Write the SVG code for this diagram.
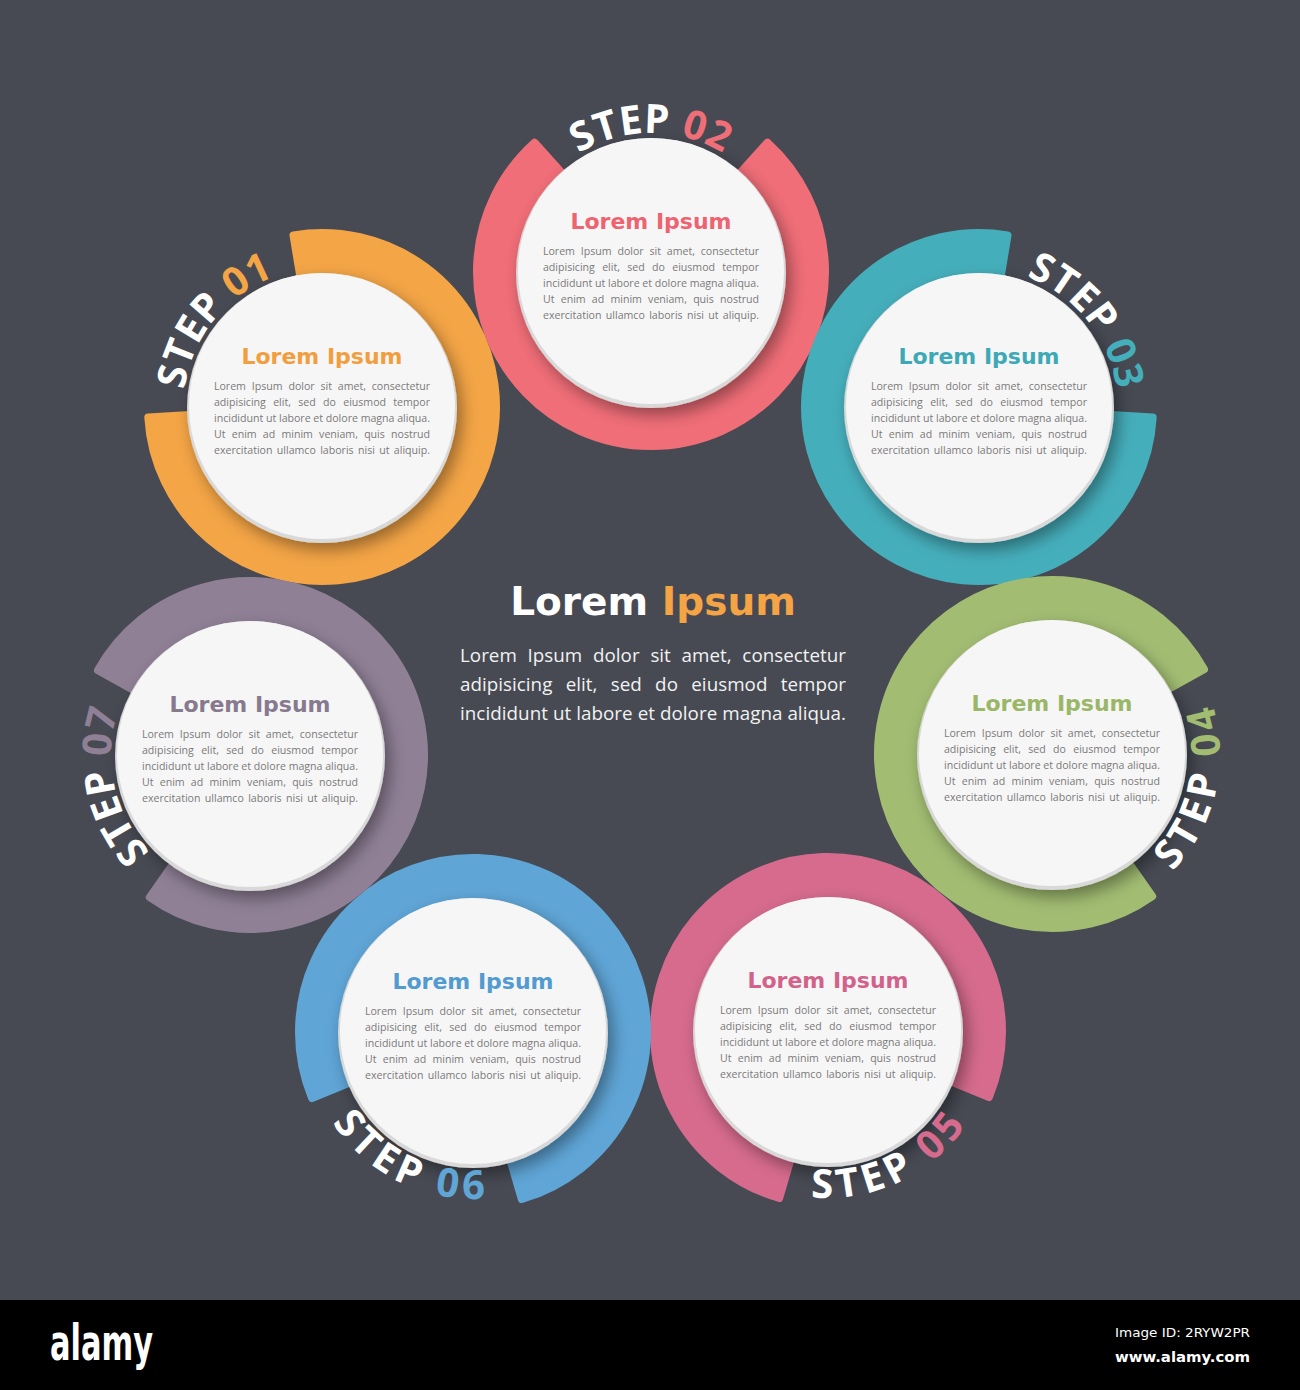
<svg xmlns="http://www.w3.org/2000/svg" xmlns:xlink="http://www.w3.org/1999/xlink" width="1300" height="1390" viewBox="0 0 1300 1390">
<defs>
  <filter id="sh" x="-25%" y="-25%" width="150%" height="150%">
    <feDropShadow dx="5" dy="7" stdDeviation="8" flood-color="#000" flood-opacity="0.38"/>
  </filter>
  <path id="p1" d="M235.33,515.67 A139,139 0 0 1 408.67,298.33"/>
  <path id="p2" d="M512,272 A139,139 0 0 1 790,272"/>
  <path id="p3" d="M892.33,298.33 A139,139 0 0 1 1065.67,515.67"/>
  <path id="p7" d="M280.93,890.52 A139,139 0 0 1 219.07,619.48"/>
  <path id="p4" d="M1014.62,917.79 A168,168 0 0 0 1089.38,590.21"/>
  <path id="p5" d="M676.64,1103.89 A168,168 0 0 0 979.36,958.11"/>
  <path id="p6" d="M321.64,959.11 A168,168 0 0 0 624.36,1104.89"/>
</defs>
<style>
  .ring{stroke-width:8;stroke-linejoin:round}
  .rim{fill:#d9d9d9}
  .disc{fill:#f6f6f6}
  .ttl{font-family:"DejaVu Sans",Verdana,sans-serif;font-weight:bold;font-size:22px;text-anchor:middle}
  .body{font-family:"Open Sans",sans-serif;font-size:10.6px;fill:#7a7a7a}
  .step{font-family:"Open Sans",sans-serif;font-weight:bold;font-size:40px;fill:#ffffff;text-anchor:middle}
  .top{letter-spacing:0.5px}
  .bot{letter-spacing:5px}
  .cbody{font-family:"Open Sans",sans-serif;font-size:18.8px;fill:#f2f2f2}
</style>
<rect x="0" y="0" width="1300" height="1300" fill="#474a53"/>

<g id="step-01">
  <path class="ring" fill="#f4a546" stroke="#f4a546" d="M293.5,235.35 A174,174 0 1 1 148.31,417.41 L198.22,414.42 A124,124 0 1 0 301.69,284.67 Z"/>
  <circle class="rim" cx="322" cy="408" r="135" filter="url(#sh)"/>
  <circle class="disc" cx="322" cy="406" r="133"/>
  <text class="ttl" x="322" y="364" fill="#f29e3e">Lorem Ipsum</text>
  <text class="body" x="214" y="390" textLength="216" lengthAdjust="spacing" word-spacing="3.16">Lorem Ipsum dolor sit amet, consectetur</text>
  <text class="body" x="214" y="406" textLength="216" lengthAdjust="spacing" word-spacing="4.6">adipisicing elit, sed do eiusmod tempor</text>
  <text class="body" x="214" y="422" textLength="216" lengthAdjust="spacing">incididunt ut labore et dolore magna aliqua.</text>
  <text class="body" x="214" y="438" textLength="216" lengthAdjust="spacing" word-spacing="3.5">Ut enim ad minim veniam, quis nostrud</text>
  <text class="body" x="214" y="454" textLength="216" lengthAdjust="spacing" word-spacing="1.6">exercitation ullamco laboris nisi ut aliquip.</text>
  <text class="step top"><textPath xlink:href="#p1" href="#p1" startOffset="50%">STEP <tspan fill="#f4a546">01</tspan></textPath></text>
</g>

<g id="step-02">
  <path class="ring" fill="#f06e78" stroke="#f06e78" d="M767.43,142.69 A174,174 0 1 1 534.57,142.69 L568.03,179.85 A124,124 0 1 0 733.97,179.85 Z"/>
  <circle class="rim" cx="651" cy="273" r="135" filter="url(#sh)"/>
  <circle class="disc" cx="651" cy="271" r="133"/>
  <text class="ttl" x="651" y="229" fill="#ee6370">Lorem Ipsum</text>
  <text class="body" x="543" y="255" textLength="216" lengthAdjust="spacing" word-spacing="3.16">Lorem Ipsum dolor sit amet, consectetur</text>
  <text class="body" x="543" y="271" textLength="216" lengthAdjust="spacing" word-spacing="4.6">adipisicing elit, sed do eiusmod tempor</text>
  <text class="body" x="543" y="287" textLength="216" lengthAdjust="spacing">incididunt ut labore et dolore magna aliqua.</text>
  <text class="body" x="543" y="303" textLength="216" lengthAdjust="spacing" word-spacing="3.5">Ut enim ad minim veniam, quis nostrud</text>
  <text class="body" x="543" y="319" textLength="216" lengthAdjust="spacing" word-spacing="1.6">exercitation ullamco laboris nisi ut aliquip.</text>
  <text class="step top"><textPath xlink:href="#p2" href="#p2" startOffset="50%">STEP <tspan fill="#f06e78">02</tspan></textPath></text>
</g>

<g id="step-03">
  <path class="ring" fill="#45aebb" stroke="#45aebb" d="M1152.69,417.41 A174,174 0 1 1 1007.51,235.35 L999.32,284.68 A124,124 0 1 0 1102.78,414.42 Z"/>
  <circle class="rim" cx="979" cy="408" r="135" filter="url(#sh)"/>
  <circle class="disc" cx="979" cy="406" r="133"/>
  <text class="ttl" x="979" y="364" fill="#3ea9b6">Lorem Ipsum</text>
  <text class="body" x="871" y="390" textLength="216" lengthAdjust="spacing" word-spacing="3.16">Lorem Ipsum dolor sit amet, consectetur</text>
  <text class="body" x="871" y="406" textLength="216" lengthAdjust="spacing" word-spacing="4.6">adipisicing elit, sed do eiusmod tempor</text>
  <text class="body" x="871" y="422" textLength="216" lengthAdjust="spacing">incididunt ut labore et dolore magna aliqua.</text>
  <text class="body" x="871" y="438" textLength="216" lengthAdjust="spacing" word-spacing="3.5">Ut enim ad minim veniam, quis nostrud</text>
  <text class="body" x="871" y="454" textLength="216" lengthAdjust="spacing" word-spacing="1.6">exercitation ullamco laboris nisi ut aliquip.</text>
  <text class="step top"><textPath xlink:href="#p3" href="#p3" startOffset="50%">STEP <tspan fill="#45aebb">03</tspan></textPath></text>
</g>

<g id="step-04">
  <path class="ring" fill="#a2bd72" stroke="#a2bd72" d="M1152.16,896.28 A174,174 0 1 1 1203.98,669.27 L1160.31,693.62 A124,124 0 1 0 1123.38,855.40 Z"/>
  <circle class="rim" cx="1052" cy="755" r="135" filter="url(#sh)"/>
  <circle class="disc" cx="1052" cy="753" r="133"/>
  <text class="ttl" x="1052" y="711" fill="#9ab768">Lorem Ipsum</text>
  <text class="body" x="944" y="737" textLength="216" lengthAdjust="spacing" word-spacing="3.16">Lorem Ipsum dolor sit amet, consectetur</text>
  <text class="body" x="944" y="753" textLength="216" lengthAdjust="spacing" word-spacing="4.6">adipisicing elit, sed do eiusmod tempor</text>
  <text class="body" x="944" y="769" textLength="216" lengthAdjust="spacing">incididunt ut labore et dolore magna aliqua.</text>
  <text class="body" x="944" y="785" textLength="216" lengthAdjust="spacing" word-spacing="3.5">Ut enim ad minim veniam, quis nostrud</text>
  <text class="body" x="944" y="801" textLength="216" lengthAdjust="spacing" word-spacing="1.6">exercitation ullamco laboris nisi ut aliquip.</text>
  <text class="step bot"><textPath xlink:href="#p4" href="#p4" startOffset="50%">STEP <tspan fill="#a2bd72">04</tspan></textPath></text>
</g>

<g id="step-05">
  <path class="ring" fill="#d66b8d" stroke="#d66b8d" d="M779.20,1198.02 A174,174 0 1 1 989.00,1096.99 L942.74,1078.03 A124,124 0 1 0 793.22,1150.02 Z"/>
  <circle class="rim" cx="828" cy="1032" r="135" filter="url(#sh)"/>
  <circle class="disc" cx="828" cy="1030" r="133"/>
  <text class="ttl" x="828" y="988" fill="#d2628a">Lorem Ipsum</text>
  <text class="body" x="720" y="1014" textLength="216" lengthAdjust="spacing" word-spacing="3.16">Lorem Ipsum dolor sit amet, consectetur</text>
  <text class="body" x="720" y="1030" textLength="216" lengthAdjust="spacing" word-spacing="4.6">adipisicing elit, sed do eiusmod tempor</text>
  <text class="body" x="720" y="1046" textLength="216" lengthAdjust="spacing">incididunt ut labore et dolore magna aliqua.</text>
  <text class="body" x="720" y="1062" textLength="216" lengthAdjust="spacing" word-spacing="3.5">Ut enim ad minim veniam, quis nostrud</text>
  <text class="body" x="720" y="1078" textLength="216" lengthAdjust="spacing" word-spacing="1.6">exercitation ullamco laboris nisi ut aliquip.</text>
  <text class="step bot"><textPath xlink:href="#p5" href="#p5" startOffset="50%">STEP <tspan fill="#d66b8d">05</tspan></textPath></text>
</g>

<g id="step-06">
  <path class="ring" fill="#5fa5d6" stroke="#5fa5d6" d="M312.00,1097.99 A174,174 0 1 1 521.81,1199.01 L507.78,1151.02 A124,124 0 1 0 358.26,1079.02 Z"/>
  <circle class="rim" cx="473" cy="1033" r="135" filter="url(#sh)"/>
  <circle class="disc" cx="473" cy="1031" r="133"/>
  <text class="ttl" x="473" y="989" fill="#529bd0">Lorem Ipsum</text>
  <text class="body" x="365" y="1015" textLength="216" lengthAdjust="spacing" word-spacing="3.16">Lorem Ipsum dolor sit amet, consectetur</text>
  <text class="body" x="365" y="1031" textLength="216" lengthAdjust="spacing" word-spacing="4.6">adipisicing elit, sed do eiusmod tempor</text>
  <text class="body" x="365" y="1047" textLength="216" lengthAdjust="spacing">incididunt ut labore et dolore magna aliqua.</text>
  <text class="body" x="365" y="1063" textLength="216" lengthAdjust="spacing" word-spacing="3.5">Ut enim ad minim veniam, quis nostrud</text>
  <text class="body" x="365" y="1079" textLength="216" lengthAdjust="spacing" word-spacing="1.6">exercitation ullamco laboris nisi ut aliquip.</text>
  <text class="step bot"><textPath xlink:href="#p6" href="#p6" startOffset="50%">STEP <tspan fill="#5fa5d6">06</tspan></textPath></text>
</g>

<g id="step-07">
  <path class="ring" fill="#8f8096" stroke="#8f8096" d="M98.02,670.27 A174,174 0 1 1 149.84,897.28 L178.62,856.40 A124,124 0 1 0 141.69,694.62 Z"/>
  <circle class="rim" cx="250" cy="756" r="135" filter="url(#sh)"/>
  <circle class="disc" cx="250" cy="754" r="133"/>
  <text class="ttl" x="250" y="712" fill="#877a8e">Lorem Ipsum</text>
  <text class="body" x="142" y="738" textLength="216" lengthAdjust="spacing" word-spacing="3.16">Lorem Ipsum dolor sit amet, consectetur</text>
  <text class="body" x="142" y="754" textLength="216" lengthAdjust="spacing" word-spacing="4.6">adipisicing elit, sed do eiusmod tempor</text>
  <text class="body" x="142" y="770" textLength="216" lengthAdjust="spacing">incididunt ut labore et dolore magna aliqua.</text>
  <text class="body" x="142" y="786" textLength="216" lengthAdjust="spacing" word-spacing="3.5">Ut enim ad minim veniam, quis nostrud</text>
  <text class="body" x="142" y="802" textLength="216" lengthAdjust="spacing" word-spacing="1.6">exercitation ullamco laboris nisi ut aliquip.</text>
  <text class="step top"><textPath xlink:href="#p7" href="#p7" startOffset="50%">STEP <tspan fill="#8f8096">07</tspan></textPath></text>
</g>

<g id="center">
  <text x="653" y="615" text-anchor="middle" font-family="'DejaVu Sans',Verdana,sans-serif" font-weight="bold" font-size="39"><tspan fill="#ffffff">Lorem </tspan><tspan fill="#f4a444">Ipsum</tspan></text>
  <text class="cbody" x="460" y="662" textLength="386" lengthAdjust="spacing" word-spacing="5.86">Lorem Ipsum dolor sit amet, consectetur</text>
  <text class="cbody" x="460" y="691" textLength="386" lengthAdjust="spacing" word-spacing="8.4">adipisicing elit, sed do eiusmod tempor</text>
  <text class="cbody" x="460" y="720" textLength="386" lengthAdjust="spacing">incididunt ut labore et dolore magna aliqua.</text>
</g>

<g id="footer">
  <rect x="0" y="1300" width="1300" height="90" fill="#000000"/>
  <text x="50" y="1360" font-family="'DejaVu Sans Condensed','DejaVu Sans',sans-serif" font-stretch="condensed" font-weight="bold" font-size="50" fill="#ffffff" textLength="103" lengthAdjust="spacingAndGlyphs">alamy</text>
  <text x="1115" y="1337" font-family="'DejaVu Sans Condensed','DejaVu Sans',sans-serif" font-size="13" fill="#ffffff" textLength="135" lengthAdjust="spacingAndGlyphs">Image ID: 2RYW2PR</text>
  <text x="1115" y="1362" font-family="'DejaVu Sans Condensed','DejaVu Sans',sans-serif" font-weight="bold" font-size="14" fill="#ffffff" textLength="135" lengthAdjust="spacingAndGlyphs">www.alamy.com</text>
</g>
</svg>
